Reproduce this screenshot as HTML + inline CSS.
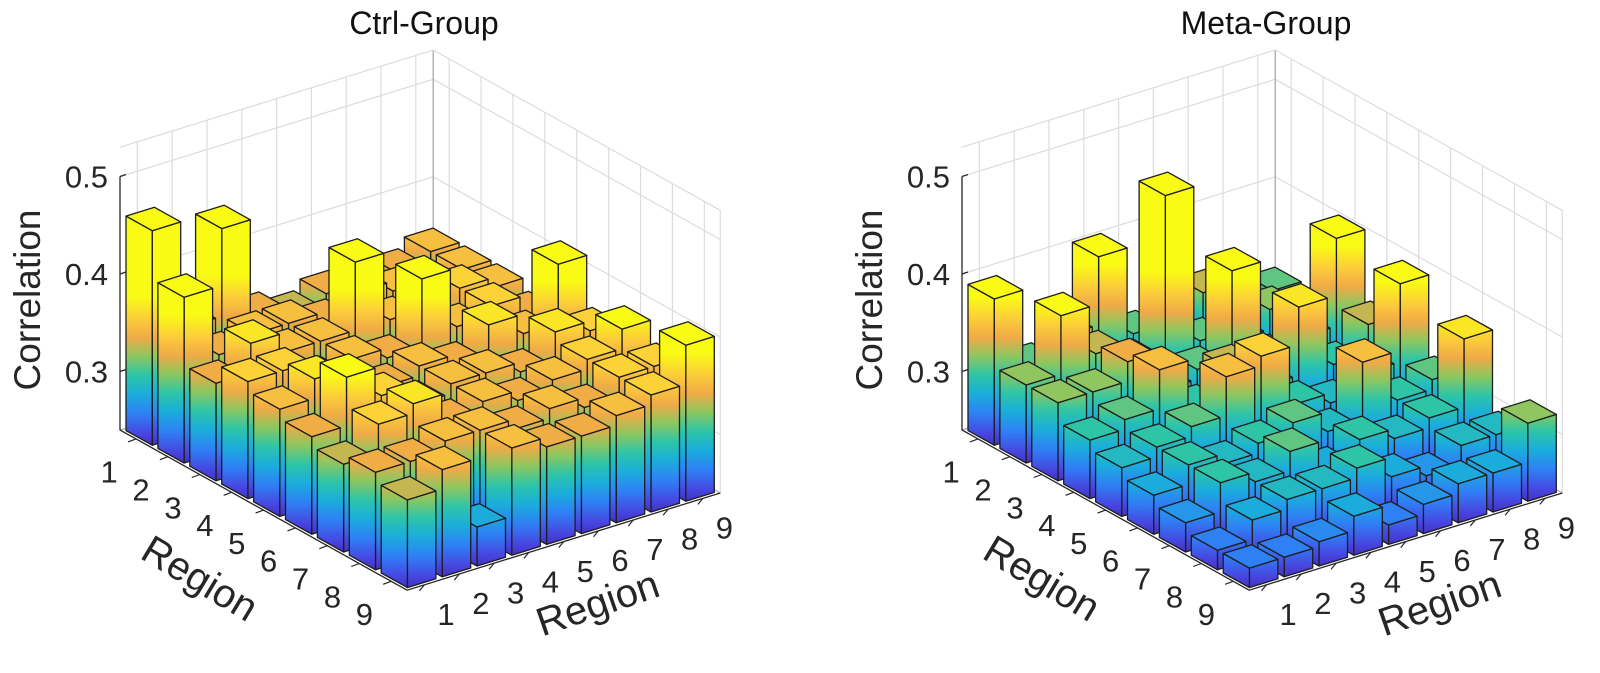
<!DOCTYPE html>
<html><head><meta charset="utf-8">
<style>
html,body{margin:0;padding:0;background:#fff;}
svg{display:block;font-family:"Liberation Sans",Arial,sans-serif;}
</style></head>
<body>
<svg id="s" width="1600" height="673" viewBox="0 0 1600 673" xmlns="http://www.w3.org/2000/svg"></svg>
<script>
const S=document.getElementById('s');
let html='';
const stops=[[0,[62,38,168]],[0.12,[71,69,224]],[0.25,[47,127,245]],[0.38,[26,174,219]],[0.5,[46,197,167]],[0.62,[140,199,96]],[0.74,[240,170,70]],[0.86,[252,205,58]],[1,[249,251,20]]];
const C0=0.22,C1=0.38;
function cmap(t){t=Math.max(0,Math.min(1,t));for(let k=1;k<stops.length;k++){if(t<=stops[k][0]){const a=stops[k-1],b=stops[k];const f=(t-a[0])/(b[0]-a[0]);return 'rgb('+a[1].map((v,q)=>Math.round(v+(b[1][q]-v)*f)).join(',')+')';}}return 'rgb(249,251,20)';}
function P(ox,i,j,z){return [ox+120+(i-0.5)*31.9+(j-0.5)*34.8, 430+(i-0.5)*17.8-(j-0.5)*10.8-(z-0.24)*975];}
function pts(a){return a.map(p=>p[0].toFixed(1)+','+p[1].toFixed(1)).join(' ');}
let gid=0;
const ZT=0.53;
function chart(ox,title,D){
  const g='#dcdcdc';
  for(let j=1;j<=9;j++){const a=P(ox,0.5,j,0.24),b=P(ox,0.5,j,ZT);html+=`<line x1="${a[0]}" y1="${a[1]}" x2="${b[0]}" y2="${b[1]}" stroke="${g}" stroke-width="1.2"/>`;}
  for(let i=1;i<=9;i++){const a=P(ox,i,9.5,0.24),b=P(ox,i,9.5,ZT);html+=`<line x1="${a[0]}" y1="${a[1]}" x2="${b[0]}" y2="${b[1]}" stroke="${g}" stroke-width="1.2"/>`;}
  for(const z of [0.3,0.4,0.5]){const a=P(ox,0.5,0.5,z),b=P(ox,0.5,9.5,z),c=P(ox,9.5,9.5,z);html+=`<polyline points="${pts([a,b,c])}" fill="none" stroke="${g}" stroke-width="1.2"/>`;}
  const e='#a8a8a8';
  let a=P(ox,0.5,9.5,0.24),b=P(ox,0.5,9.5,ZT);html+=`<line x1="${a[0]}" y1="${a[1]}" x2="${b[0]}" y2="${b[1]}" stroke="${e}" stroke-width="1.3"/>`;
  a=P(ox,9.5,9.5,0.24);b=P(ox,9.5,9.5,ZT);html+=`<line x1="${a[0]}" y1="${a[1]}" x2="${b[0]}" y2="${b[1]}" stroke="${g}" stroke-width="1.2"/>`;
  html+=`<polyline points="${pts([P(ox,0.5,0.5,ZT),P(ox,0.5,9.5,ZT),P(ox,9.5,9.5,ZT)])}" fill="none" stroke="${g}" stroke-width="1.2"/>`;
  html+=`<polyline points="${pts([P(ox,0.5,0.5,0.24),P(ox,0.5,9.5,0.24),P(ox,9.5,9.5,0.24)])}" fill="none" stroke="${e}" stroke-width="1.2"/>`;
  const ax='#262626';
  html+=`<polyline points="${pts([P(ox,0.5,0.5,0.5),P(ox,0.5,0.5,0.24),P(ox,9.5,0.5,0.24),P(ox,9.5,9.5,0.24)])}" fill="none" stroke="${ax}" stroke-width="1.3"/>`;
  for(const z of [0.3,0.4,0.5]){const p=P(ox,0.5,0.5,z);html+=`<line x1="${p[0]}" y1="${p[1]}" x2="${p[0]+6}" y2="${p[1]-2}" stroke="${ax}" stroke-width="1.2"/><text x="${p[0]-12}" y="${p[1]+11}" font-size="31" text-anchor="end" fill="#262626">${z.toFixed(1)}</text>`;}
  for(let k=1;k<=9;k++){let p=P(ox,k,0.5,0.24);html+=`<line x1="${p[0]}" y1="${p[1]}" x2="${p[0]-8}" y2="${p[1]+3}" stroke="${ax}" stroke-width="1.2"/>`;
    p=P(ox,k,-0.5,0.24);html+=`<text x="${p[0]+8}" y="${p[1]+33}" font-size="31" text-anchor="middle" fill="#262626">${k}</text>`;
    p=P(ox,9.5,k,0.24);html+=`<line x1="${p[0]}" y1="${p[1]}" x2="${p[0]-5}" y2="${p[1]+6}" stroke="${ax}" stroke-width="1.2"/>`;
    p=P(ox,10.3,k,0.24);html+=`<text x="${p[0]-4}" y="${p[1]+26}" font-size="31" text-anchor="middle" fill="#262626">${k}</text>`;}
  html+=`<text x="${ox+40}" y="300" font-size="37" text-anchor="middle" transform="rotate(-90 ${ox+40} 300)" fill="#262626">Correlation</text>`;
  html+=`<text x="${ox+193}" y="590" font-size="40" text-anchor="middle" transform="rotate(31 ${ox+193} 590)" fill="#262626">Region</text>`;
  html+=`<text x="${ox+602}" y="616" font-size="40" text-anchor="middle" transform="rotate(-19 ${ox+602} 616)" fill="#262626">Region</text>`;
  html+=`<text x="${ox+424}" y="34" font-size="32" text-anchor="middle" fill="#111">${title}</text>`;
  const L=[];for(let i=1;i<=9;i++)for(let j=1;j<=9;j++)L.push([i,j,D[i-1][j-1]]);
  L.sort((p,q)=>(p[0]-p[1])-(q[0]-q[1]));
  const w=0.41;
  let gs='';for(const s of stops)gs+=`<stop offset="${s[0]}" stop-color="rgb(${s[1].join(',')})"/>`;
  for(const [i,j,z] of L){
    const id='g'+(gid++);const y0=P(ox,i,j,C0)[1],y1=P(ox,i,j,C1)[1];
    html+=`<defs><linearGradient id="${id}" gradientUnits="userSpaceOnUse" x1="0" y1="${y0}" x2="0" y2="${y1}">${gs}</linearGradient></defs>`;
    const st='stroke="#1e1e1e" stroke-width="1.3" stroke-linejoin="round"';
    html+=`<polygon points="${pts([P(ox,i+w,j-w,0.24),P(ox,i+w,j+w,0.24),P(ox,i+w,j+w,z),P(ox,i+w,j-w,z)])}" fill="url(#${id})" ${st}/>`;
    html+=`<polygon points="${pts([P(ox,i-w,j-w,0.24),P(ox,i+w,j-w,0.24),P(ox,i+w,j-w,z),P(ox,i-w,j-w,z)])}" fill="url(#${id})" ${st}/>`;
    html+=`<polygon points="${pts([P(ox,i-w,j-w,z),P(ox,i+w,j-w,z),P(ox,i+w,j+w,z),P(ox,i-w,j+w,z)])}" fill="${cmap((z-C0)/(C1-C0))}" ${st}/>`;
  }
}
const A=[
[.46,.35,.44,.34,.33,.34,.33,.34,.35],
[.41,.34,.35,.35,.34,.36,.35,.34,.35],
[.34,.37,.35,.35,.42,.35,.34,.36,.35],
[.36,.36,.34,.35,.34,.41,.35,.36,.34],
[.35,.37,.35,.34,.35,.34,.37,.35,.41],
[.34,.39,.36,.34,.35,.35,.34,.37,.36],
[.33,.36,.37,.34,.35,.34,.35,.36,.38],
[.34,.34,.35,.35,.34,.35,.34,.36,.36],
[.33,.35,.28,.35,.34,.34,.35,.36,.40]];
const B=[
[.39,.31,.33,.40,.31,.30,.33,.29,.31],
[.32,.38,.33,.31,.47,.31,.30,.32,.29],
[.32,.32,.34,.30,.31,.40,.30,.31,.40],
[.30,.31,.35,.30,.33,.30,.37,.30,.33],
[.29,.30,.31,.35,.36,.30,.29,.31,.39],
[.28,.30,.29,.30,.31,.29,.35,.30,.31],
[.27,.30,.29,.31,.28,.30,.29,.30,.37],
[.26,.28,.29,.29,.30,.28,.27,.29,.29],
[.26,.26,.265,.28,.26,.27,.28,.28,.32]];
chart(0,'Ctrl-Group',A);
chart(842,'Meta-Group',B);
S.innerHTML=html;
</script>
</body></html>
